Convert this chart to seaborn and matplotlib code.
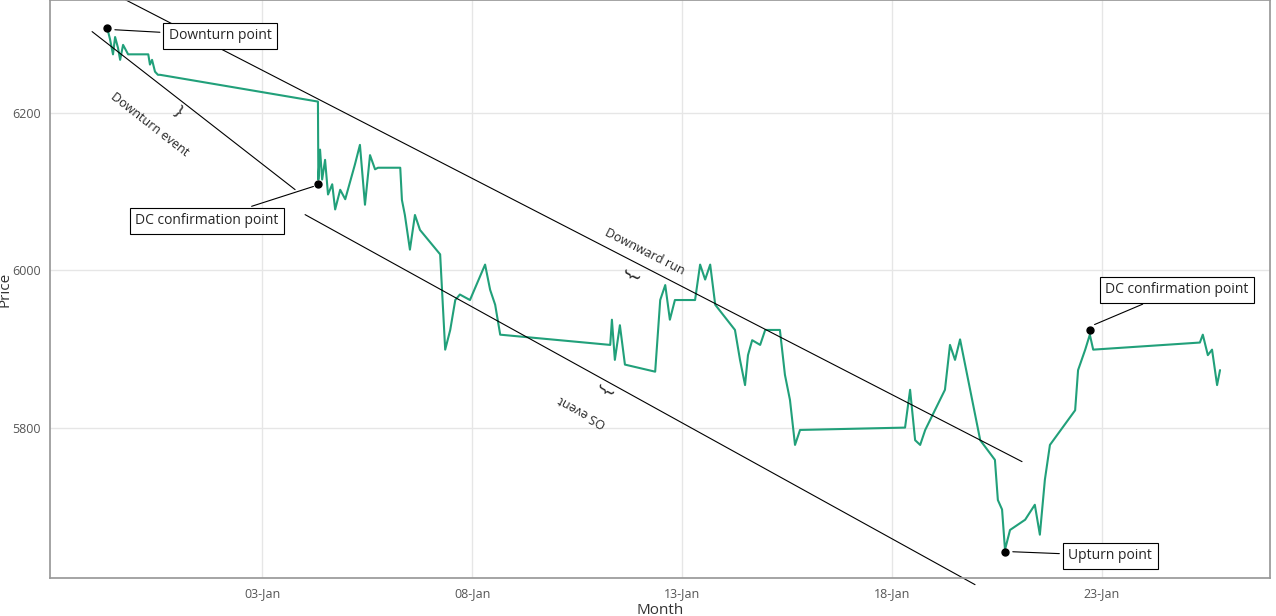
import matplotlib
matplotlib.use("Agg")
import matplotlib.pyplot as plt
import matplotlib.dates as mdates
import seaborn as sns
import pandas as pd

# days since 1 Jan 00:00 and price
days = [-1.69, -1.62, -1.55, -1.50, -1.43, -1.38, -1.31, -1.19, -1.02, -0.71, -0.67, -0.62, -0.55, -0.48, -0.43,
        3.33, 3.34, 3.38, 3.43, 3.50, 3.57, 3.67, 3.74, 3.86, 3.98, 4.21, 4.33, 4.45, 4.57, 4.69, 4.76,
        5.29, 5.33, 5.40, 5.52, 5.64, 5.76, 6.24, 6.36, 6.48, 6.60, 6.71, 6.95, 7.31, 7.43, 7.55, 7.67,
        10.29, 10.33, 10.40, 10.52, 10.64, 11.36, 11.48, 11.60, 11.71, 11.83, 12.07, 12.31, 12.43, 12.55,
        12.67, 12.79, 13.26, 13.38, 13.50, 13.57, 13.67, 13.86, 13.98, 14.33, 14.45, 14.57, 14.69, 14.81,
        17.31, 17.43, 17.55, 17.67, 17.79, 18.26, 18.38, 18.50, 18.62, 18.74, 19.10, 19.45, 19.52, 19.62,
        19.69, 19.81, 20.17, 20.40, 20.52, 20.64, 20.76, 21.36, 21.43, 21.60, 21.71, 21.79, 24.33, 24.40,
        24.52, 24.62, 24.74, 24.81]
prices = [6308, 6293, 6274, 6296, 6282, 6267, 6286, 6274, 6274, 6274, 6261, 6267, 6252, 6248, 6248,
          6214, 6115, 6153, 6115, 6140, 6096, 6109, 6077, 6102, 6090, 6134, 6159, 6083, 6146, 6128, 6130,
          6130, 6089, 6070, 6026, 6070, 6051, 6020, 5899, 5924, 5962, 5969, 5962, 6007, 5975, 5956, 5918,
          5905, 5937, 5886, 5930, 5880, 5871, 5962, 5981, 5937, 5962, 5962, 5962, 6007, 5988,
          6007, 5956, 5924, 5886, 5854, 5892, 5911, 5905, 5924, 5924, 5867, 5835, 5778, 5797,
          5800, 5848, 5784, 5778, 5797, 5848, 5905, 5886, 5912, 5880, 5784, 5759, 5708, 5696,
          5645, 5670, 5683, 5702, 5664, 5734, 5778, 5822, 5873, 5899, 5918, 5899, 5908, 5918,
          5892, 5899, 5854, 5873]

base = pd.Timestamp("2022-01-01")
df = pd.DataFrame({"date": base + pd.to_timedelta(days, unit="D"), "price": prices})

sns.set_theme(style="whitegrid")
plt.rcParams["font.family"] = ["Open Sans", "DejaVu Sans"]

fig = plt.figure(figsize=(12.76, 6.16), dpi=100)
ax = fig.add_axes([50 / 1276, 38 / 616, 1220 / 1276, 578 / 616])
sns.lineplot(data=df, x="date", y="price", color="#21a07a", lw=1.5, ax=ax,
             estimator=None, sort=False)

b = mdates.date2num(base)
ax.set_xlim(b - 3.05, b + 26.0)
ax.set_ylim(5609, 6343)
ax.set_yticks([5800, 6000, 6200])
ax.xaxis.set_major_locator(mdates.DayLocator(bymonthday=[3, 8, 13, 18, 23]))
ax.xaxis.set_major_formatter(mdates.DateFormatter("%d-%b"))
ax.tick_params(labelsize=9, colors="#555555", length=3)
ax.set_xlabel("Month", fontsize=11, color="#333333", labelpad=2)
ax.set_ylabel("Price", fontsize=11, color="#333333", labelpad=0)
for s in ax.spines.values():
    s.set_color("#999999")
ax.grid(color="#e6e6e6")


def P(x, y):
    # pixel position in the reference -> data coordinates (for annotations)
    return (b + 2 + (x - 262) / 42, 6200 + (113 - y) * 1.27)


box = dict(boxstyle="square,pad=0.4", fc="white", ec="black", lw=0.8)
dots = [(107, 28), (318, 184), (1005, 552), (1090, 330)]
for px, py in dots:
    ax.plot(*P(px, py), "o", color="black", ms=5, zorder=5)

notes = [("Downturn point", (220, 36), (112, 30)),
         ("DC confirmation point", (207, 221), (316, 186)),
         ("Upturn point", (1110, 556), (1010, 552)),
         ("DC confirmation point", (1177, 290), (1092, 326))]
for txt, tp, ap in notes:
    ax.annotate(txt, xy=P(*ap), xytext=P(*tp), ha="center", va="center", fontsize=10,
                bbox=box, arrowprops=dict(arrowstyle="-", lw=0.8, color="black"))

lines = [((92, 32), (295, 190)), ((125, 0), (1022, 462)), ((305, 215), (975, 585))]
for (x0, y0), (x1, y1) in lines:
    (a0, c0), (a1, c1) = P(x0, y0), P(x1, y1)
    ax.plot([a0, a1], [c0, c1], color="black", lw=0.8, clip_on=False)

ax.text(*P(150, 125), "Downturn event", rotation=-38, ha="center", va="center", fontsize=9)
ax.text(*P(645, 252), "Downward run", rotation=-27, ha="center", va="center", fontsize=9)
ax.text(*P(582, 412), "OS event", rotation=151, ha="center", va="center", fontsize=9)
ax.text(*P(178, 112), "}", rotation=-38, ha="center", va="center", fontsize=12)
ax.text(*P(632, 275), "{", rotation=63, ha="center", va="center", fontsize=14)
ax.text(*P(605, 390), "}", rotation=-120, ha="center", va="center", fontsize=14)

fig.savefig("out.png", dpi=100)
